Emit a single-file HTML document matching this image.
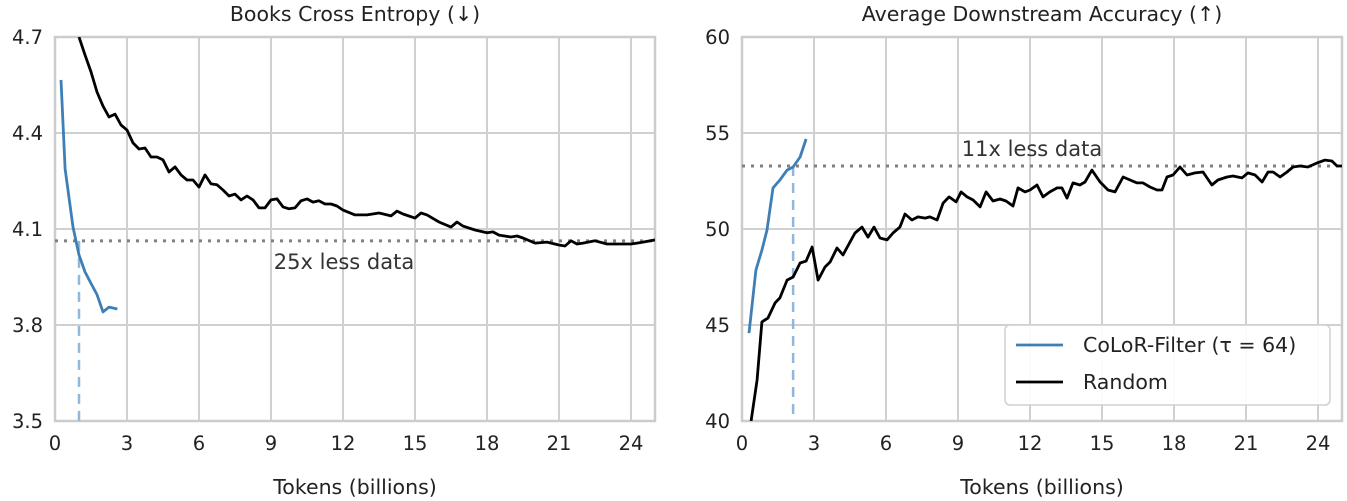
<!DOCTYPE html>
<html><head><meta charset="utf-8">
<style>
body{margin:0;background:#fff;}
svg{display:block;font-family:"DejaVu Sans","Liberation Sans",sans-serif;}
</style></head>
<body>
<svg id="chart" width="1347" height="501" viewBox="0 0 1347 501"></svg>
<script>
// ---- Left panel data (Books Cross Entropy) ----
const leftTicksX = [0,3,6,9,12,15,18,21,24];
const leftTicksY = [3.5,3.8,4.1,4.4,4.7];
const leftRandomX = [1.0,1.25,1.5,1.75,2.0,2.25,2.5,2.75,3.0,3.25,3.5,3.75,4.0,4.25,4.5,4.75,5.0,5.25,5.5,5.75,6.0,6.25,6.5,6.75,7,7.25,7.5,7.75,8,8.25,8.5,8.75,9,9.25,9.5,9.75,10,10.25,10.5,10.75,11,11.25,11.5,11.75,12,12.5,13,13.5,14,14.25,14.5,15,15.25,15.5,16,16.5,16.75,17,17.5,18,18.25,18.5,19,19.25,19.5,20,20.5,21,21.25,21.5,21.75,22,22.5,23,23.5,24,24.25,24.5,25];
const leftRandomY = [4.7,4.644,4.591,4.528,4.484,4.45,4.459,4.425,4.409,4.369,4.35,4.353,4.325,4.325,4.316,4.278,4.294,4.269,4.253,4.253,4.231,4.269,4.241,4.238,4.222,4.203,4.209,4.191,4.203,4.191,4.166,4.166,4.191,4.194,4.169,4.163,4.166,4.188,4.194,4.184,4.188,4.178,4.178,4.172,4.159,4.144,4.144,4.15,4.141,4.156,4.147,4.134,4.15,4.144,4.122,4.106,4.122,4.109,4.097,4.088,4.091,4.081,4.075,4.078,4.072,4.056,4.059,4.05,4.047,4.063,4.053,4.056,4.063,4.053,4.053,4.053,4.056,4.059,4.066];
const leftColorX = [0.25,0.42,0.75,1.0,1.25,1.5,1.75,2.0,2.25,2.6];
const leftColorY = [4.566,4.288,4.106,4.019,3.966,3.93,3.895,3.841,3.856,3.85];
const leftRef = 4.063, leftCross = 1.0;

// ---- Right panel data (Average Downstream Accuracy) ----
const rightTicksX = [0,3,6,9,12,15,18,21,24];
const rightTicksY = [40,45,50,55,60];
const rightRandomX = [0.38,0.63,0.83,1.08,1.38,1.58,1.88,2.13,2.42,2.67,2.92,3.17,3.46,3.67,3.96,4.21,4.5,4.71,5.0,5.25,5.5,5.75,6.04,6.29,6.58,6.79,7.08,7.33,7.63,7.83,8.13,8.38,8.63,8.92,9.13,9.38,9.63,9.92,10.17,10.46,10.75,11.0,11.29,11.5,11.79,12.0,12.29,12.54,12.83,13.13,13.33,13.54,13.79,14.08,14.29,14.58,14.92,15.25,15.54,15.88,16.17,16.46,16.71,17.0,17.29,17.5,17.71,17.96,18.25,18.54,18.88,19.21,19.58,19.83,20.21,20.46,20.83,21.08,21.38,21.67,21.92,22.13,22.42,22.71,22.96,23.25,23.58,23.96,24.29,24.58,24.79,25.0];
const rightRandomY = [40.0,42.14,45.16,45.36,46.15,46.41,47.34,47.5,48.23,48.33,49.06,47.34,48.02,48.28,49.01,48.65,49.32,49.79,50.1,49.58,50.1,49.53,49.43,49.79,50.1,50.78,50.47,50.63,50.57,50.63,50.47,51.35,51.67,51.41,51.93,51.67,51.51,51.15,51.93,51.46,51.56,51.46,51.2,52.14,51.93,52.03,52.29,51.67,51.93,52.14,52.14,51.61,52.4,52.29,52.45,53.07,52.45,52.03,51.93,52.71,52.55,52.4,52.4,52.19,52.03,52.03,52.71,52.81,53.23,52.81,52.92,52.97,52.29,52.55,52.71,52.76,52.66,52.92,52.81,52.45,52.97,52.97,52.71,52.97,53.23,53.28,53.23,53.44,53.59,53.54,53.28,53.28];
const rightColorX = [0.29,0.58,0.83,1.04,1.29,1.58,1.88,2.13,2.42,2.67];
const rightColorY = [44.58,47.86,48.9,49.95,52.14,52.55,53.07,53.23,53.75,54.69];
const rightRef = 53.28, rightCross = 2.13;

const NS = "http://www.w3.org/2000/svg";
const svg = document.getElementById('chart');
function mk(tag, attrs, parent){
  const e = document.createElementNS(NS, tag);
  for (const k in attrs) e.setAttribute(k, attrs[k]);
  (parent||svg).appendChild(e);
  return e;
}

function panel(opt){
  const g = mk('g', {});
  
  
  const L=opt.left, R=opt.left+600, T=37, B=421;
  const sx = v => L + (v-0)/25*(R-L);
  const sy = v => B - (v-opt.ymin)/(opt.ymax-opt.ymin)*(B-T);
  opt.tx.forEach(t=>{
    const l = mk('line',{x1:sx(t),x2:sx(t),y1:T,y2:B,stroke:'#d0d0d0','stroke-width':2},g);
    
    
    const tl = mk('text',{x:sx(t),y:450,'text-anchor':'middle','font-size':19.5,fill:'#222'},g);
    tl.textContent = t;
    
    
  });
  opt.ty.forEach(t=>{
    const l = mk('line',{x1:L,x2:R,y1:sy(t),y2:sy(t),stroke:'#d0d0d0','stroke-width':2},g);
    
    
    const tl = mk('text',{x:L-12,y:sy(t)+7,'text-anchor':'end','font-size':19.5,fill:'#222'},g);
    tl.textContent = opt.fmt(t);
    
    
  });
  const fr = mk('rect',{x:L,y:T,width:R-L,height:B-T,fill:'none',stroke:'#cccccc','stroke-width':2.5},g);
  
  
  const clip = mk('clipPath',{id:opt.name+'-clip'},g);
  mk('rect',{x:L,y:T,width:R-L,height:B-T},clip);
  const cg = mk('g',{'clip-path':'url(#'+opt.name+'-clip)'},g);
  const ref = mk('line',{x1:L,x2:R,y1:sy(opt.ref),y2:sy(opt.ref),stroke:'#808080','stroke-width':3,'stroke-dasharray':'3 6'},cg);
  
  
  const vd = mk('line',{x1:sx(opt.cross),x2:sx(opt.cross),y1:sy(opt.ref),y2:B,stroke:'#8fb8dc','stroke-width':2.5,'stroke-dasharray':'10 7'},cg);
  
  
  const pts = (xs,ys)=>xs.map((x,i)=>sx(x).toFixed(1)+','+sy(ys[i]).toFixed(1)).join(' ');
  const pr = mk('polyline',{points:pts(opt.rx,opt.ry),fill:'none',stroke:'#000','stroke-width':2.8,'stroke-linejoin':'round'},cg);
  
  
  const pc = mk('polyline',{points:pts(opt.cx,opt.cy),fill:'none',stroke:'#3f7fb5','stroke-width':2.8,'stroke-linejoin':'round'},cg);
  
  
  const an = mk('text',{x:opt.annX,y:opt.annY,'text-anchor':'middle','font-size':21,fill:'#333'},g);
  an.textContent = opt.ann;
  
  
  const ti = mk('text',{x:(L+R)/2,y:21,'text-anchor':'middle','font-size':20.5,fill:'#222'},g);
  ti.textContent = opt.title;
  
  
  const xl = mk('text',{x:(L+R)/2,y:494,'text-anchor':'middle','font-size':20.5,fill:'#222'},g);
  xl.textContent = 'Tokens (billions)';
  
  
}

panel({name:'left-panel',left:55,ymin:3.5,ymax:4.7,tx:leftTicksX,ty:leftTicksY,fmt:t=>t.toFixed(1),
  rx:leftRandomX,ry:leftRandomY,cx:leftColorX,cy:leftColorY,ref:leftRef,cross:leftCross,
  ann:'25x less data',annX:344,annY:269,title:'Books Cross Entropy (\u2193)'});
panel({name:'right-panel',left:742,ymin:40,ymax:60,tx:rightTicksX,ty:rightTicksY,fmt:t=>String(t),
  rx:rightRandomX,ry:rightRandomY,cx:rightColorX,cy:rightColorY,ref:rightRef,cross:rightCross,
  ann:'11x less data',annX:1032,annY:156,title:'Average Downstream Accuracy (\u2191)'});

const lg = mk('g',{});


mk('rect',{x:1005,y:325,width:325,height:80,rx:5,fill:'#fff','fill-opacity':0.9,stroke:'#d0d0d0','stroke-width':1.5},lg);
const e1 = mk('g',{},lg);


mk('line',{x1:1016,x2:1063,y1:345,y2:345,stroke:'#3f7fb5','stroke-width':2.8},e1);
const t1 = mk('text',{x:1083,y:352,'font-size':20.5,fill:'#222'},e1);
t1.textContent = 'CoLoR-Filter (\u03C4 = 64)';
const e2 = mk('g',{},lg);


mk('line',{x1:1016,x2:1063,y1:382,y2:382,stroke:'#000','stroke-width':2.8},e2);
const t2 = mk('text',{x:1083,y:389,'font-size':20.5,fill:'#222'},e2);
t2.textContent = 'Random';
</script>
</body></html>
